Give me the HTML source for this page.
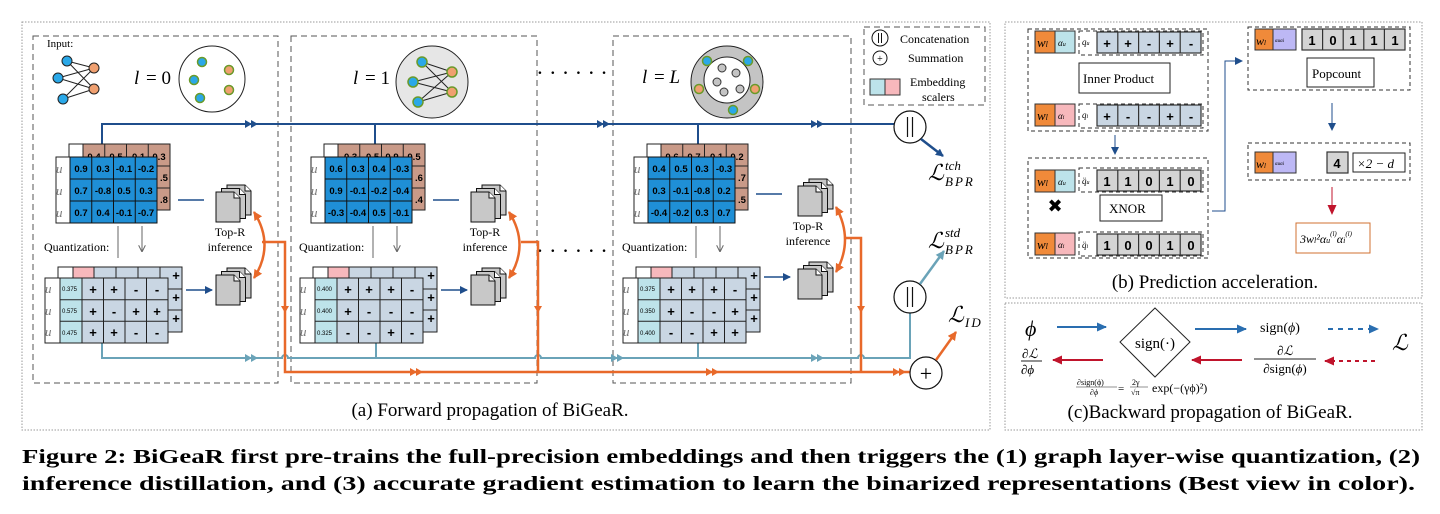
<!DOCTYPE html>
<html><head><meta charset="utf-8"><style>
html,body{margin:0;padding:0;background:#fff;width:1440px;height:514px;overflow:hidden}
svg{display:block}
.n{font-family:"Liberation Sans",sans-serif;font-size:9.5px;font-weight:bold;text-anchor:middle}
.pm{font-family:"Liberation Sans",sans-serif;font-size:13px;font-weight:bold;text-anchor:middle}
.sc{font-family:"Liberation Sans",sans-serif;font-size:6px}
.u{font-family:"Liberation Serif",serif;font-style:italic;font-size:13px;fill:#777}
.s{font-family:"Liberation Serif",serif}
.i{font-family:"Liberation Serif",serif;font-style:italic}
</style></head><body>
<svg width="1440" height="514" viewBox="0 0 1440 514" xmlns="http://www.w3.org/2000/svg">
<defs>
<marker id="ab" markerWidth="8" markerHeight="8" refX="7" refY="4" orient="auto" markerUnits="userSpaceOnUse"><path d="M0,0L8,4L0,8z" fill="#1f4e8c"/></marker>
<marker id="ao" markerWidth="9" markerHeight="9" refX="8" refY="4.5" orient="auto" markerUnits="userSpaceOnUse"><path d="M0,0L9,4.5L0,9z" fill="#e8692a"/></marker>
<marker id="ao2" markerWidth="9" markerHeight="9" refX="1" refY="4.5" orient="auto" markerUnits="userSpaceOnUse"><path d="M9,0L0,4.5L9,9z" fill="#e8692a"/></marker>
<marker id="at" markerWidth="9" markerHeight="9" refX="8" refY="4.5" orient="auto" markerUnits="userSpaceOnUse"><path d="M0,0L9,4.5L0,9z" fill="#6aa3b8"/></marker>
<marker id="ag" markerWidth="7" markerHeight="7" refX="6" refY="3.5" orient="auto" markerUnits="userSpaceOnUse"><path d="M0,0L7,3.5L0,7" fill="none" stroke="#666"/></marker>
<marker id="ar" markerWidth="10" markerHeight="9" refX="9" refY="4.5" orient="auto" markerUnits="userSpaceOnUse"><path d="M0,0L10,4.5L0,9z" fill="#c0142c"/></marker>
<marker id="abl" markerWidth="10" markerHeight="9" refX="9" refY="4.5" orient="auto" markerUnits="userSpaceOnUse"><path d="M0,0L10,4.5L0,9z" fill="#2a6eb0"/></marker>
<g id="pg"><path d="M0,0h18l6,6v24h-24z" fill="#c8c8c8" stroke="#111" stroke-width="1"/><path d="M18,0v6h6" fill="#fff" stroke="#111" stroke-width="1"/></g>
<g id="docs"><use href="#pg" x="11" y="-7"/><use href="#pg" x="5.5" y="-3.5"/><use href="#pg"/></g>
<path id="dh" d="M-7,-4L0,0L-7,4z"/>
</defs>

<rect x="22" y="22" width="968" height="408" fill="none" stroke="#999" stroke-dasharray="1.5,1.5"/>
<rect x="1005" y="22" width="417" height="276" fill="none" stroke="#999" stroke-dasharray="1.5,1.5"/>
<rect x="1005" y="303" width="417" height="127" fill="none" stroke="#999" stroke-dasharray="1.5,1.5"/>

<g fill="none" stroke="#555" stroke-dasharray="6,4" stroke-width="1">
<rect x="33" y="36" width="245" height="347"/>
<rect x="291" y="36" width="246" height="347"/>
<rect x="613" y="36" width="238" height="347"/>
<rect x="864" y="27" width="121" height="78"/>
</g>

<circle cx="880" cy="38" r="8" fill="#fff" stroke="#111"/><path d="M878.5,33v10M881.5,33v10" stroke="#111"/>
<text x="900" y="43" class="s" font-size="12">Concatenation</text>
<circle cx="880" cy="58" r="7" fill="#fff" stroke="#111"/><text x="880" y="62" class="s" font-size="10" text-anchor="middle">+</text>
<text x="908" y="62" class="s" font-size="12">Summation</text>
<rect x="870" y="79" width="15" height="16" fill="#bde3ea" stroke="#333"/><rect x="885" y="79" width="15" height="16" fill="#f7b8bc" stroke="#333"/>
<text x="910" y="86" class="s" font-size="12">Embedding</text>
<text x="922" y="101" class="s" font-size="12">scalers</text>

<g stroke="#222" stroke-width="1">
<path d="M67,61L94,68M67,61L94,89M58,78L94,68M58,78L94,89M63,99L94,68M63,99L94,89"/>
<circle cx="67" cy="61" r="5" fill="#2aa8e8"/><circle cx="58" cy="78" r="5" fill="#2aa8e8"/><circle cx="63" cy="99" r="5" fill="#2aa8e8"/>
<circle cx="94" cy="68" r="5" fill="#f0a070"/><circle cx="94" cy="89" r="5" fill="#f0a070"/>
</g>
<text x="47" y="47" class="s" font-size="11">Input:</text>
<text x="134" y="84" class="i" font-size="19">l</text><text x="146" y="84" class="s" font-size="19">= 0</text>
<circle cx="212" cy="79" r="33" fill="#fff" stroke="#222"/>
<g stroke="#6a9a2a" stroke-width="1.5" fill="#2aa8e8"><circle cx="202" cy="62" r="4.5"/><circle cx="194" cy="80" r="4.5"/><circle cx="200" cy="98" r="4.5"/></g>
<g stroke="#6a9a2a" stroke-width="1.5" fill="#f0a070"><circle cx="229" cy="70" r="4.5"/><circle cx="229" cy="90" r="4.5"/></g>

<text x="353" y="84" class="i" font-size="19">l</text><text x="365" y="84" class="s" font-size="19">= 1</text>
<circle cx="432" cy="82" r="36" fill="#e6e6e6" stroke="#222"/>
<g stroke="#222"><path d="M422,62L452,72M422,62L452,92M413,82L452,72M413,82L452,92M418,102L452,72M418,102L452,92"/></g>
<g stroke="#6a9a2a" stroke-width="1.5" fill="#2aa8e8"><circle cx="422" cy="62" r="5"/><circle cx="413" cy="82" r="5"/><circle cx="418" cy="102" r="5"/></g>
<g stroke="#6a9a2a" stroke-width="1.5" fill="#f0a070"><circle cx="452" cy="72" r="5"/><circle cx="452" cy="92" r="5"/></g>

<text x="572" y="80" class="s" font-size="22" text-anchor="middle">· · · · · ·</text>
<text x="572" y="258" class="s" font-size="22" text-anchor="middle">· · · · · ·</text>

<text x="642" y="83" class="i" font-size="19">l</text><text x="654" y="83" class="s" font-size="19">= <tspan class="i">L</tspan></text>
<circle cx="727" cy="82" r="36" fill="#c4c4c4" stroke="#222"/>
<circle cx="727" cy="80" r="23" fill="#fff" stroke="#222"/>
<g fill="#c4c4c4" stroke="#333"><circle cx="722" cy="68" r="4"/><circle cx="717" cy="82" r="4"/><circle cx="736" cy="73" r="4"/><circle cx="740" cy="89" r="4"/><circle cx="724" cy="92" r="4"/></g>
<g stroke="#6a9a2a" stroke-width="1.5" fill="#2aa8e8"><circle cx="707" cy="61" r="4.5"/><circle cx="748" cy="61" r="4.5"/><circle cx="733" cy="110" r="4.5"/></g>
<g stroke="#6a9a2a" stroke-width="1.5" fill="#f0a070"><circle cx="699" cy="89" r="4.5"/><circle cx="755" cy="89" r="4.5"/></g>

<path d="M102,145V124H894M375,124V145M698,124V145" fill="none" stroke="#1f4e8c" stroke-width="2"/>
<g fill="#1f4e8c"><use href="#dh" x="252" y="124"/><use href="#dh" x="258" y="124"/><use href="#dh" x="604" y="124"/><use href="#dh" x="610" y="124"/><use href="#dh" x="818" y="124"/><use href="#dh" x="824" y="124"/></g>
<circle cx="910" cy="127" r="16" fill="#fff" stroke="#111" stroke-width="1.2"/><path d="M907.5,117v20M912.5,117v20" stroke="#111" stroke-width="1.2"/>
<path d="M921,139L943,156" stroke="#1f4e8c" stroke-width="2.5" marker-end="url(#ab)"/>
<text x="928" y="180" class="i" font-size="22">ℒ</text><text x="945" y="170" class="i" font-size="13">tch</text><text x="945" y="186" class="i" font-size="13" letter-spacing="2">BPR</text>
<text x="928" y="248" class="i" font-size="22">ℒ</text><text x="945" y="237" class="i" font-size="13">std</text><text x="945" y="254" class="i" font-size="13" letter-spacing="2">BPR</text>
<text x="948" y="322" class="i" font-size="22">ℒ</text><text x="965" y="327" class="i" font-size="13" letter-spacing="2">ID</text>

<path d="M102,343V358H282a3,3 0 0 1 6,0H535a3,3 0 0 1 6,0H858a3,3 0 0 1 6,0H910V313M376,343V358M698,343V358" fill="none" stroke="#6aa3b8" stroke-width="2"/>
<g fill="#6aa3b8"><use href="#dh" x="252" y="358"/><use href="#dh" x="258" y="358"/><use href="#dh" x="618" y="358"/><use href="#dh" x="624" y="358"/><use href="#dh" x="818" y="358"/><use href="#dh" x="824" y="358"/></g>
<circle cx="910" cy="297" r="16" fill="#fff" stroke="#111" stroke-width="1.2"/><path d="M907.5,287v20M912.5,287v20" stroke="#111" stroke-width="1.2"/>
<path d="M920,284L944,251" stroke="#6aa3b8" stroke-width="2.5" marker-end="url(#at)"/>

<path d="M262,242H285V372H910M521,242H538V372M845,238H861V372" fill="none" stroke="#e8692a" stroke-width="2.5"/>
<g fill="#e8692a"><use href="#dh" transform="translate(285,313) rotate(90)"/><use href="#dh" transform="translate(538,313) rotate(90)"/><use href="#dh" transform="translate(861,313) rotate(90)"/><use href="#dh" x="417" y="372"/><use href="#dh" x="423" y="372"/><use href="#dh" x="713" y="372"/><use href="#dh" x="719" y="372"/><use href="#dh" x="900" y="372"/><use href="#dh" x="906" y="372"/></g>
<circle cx="926" cy="373" r="16" fill="#fff" stroke="#111" stroke-width="1.2"/><text x="926" y="381" class="s" font-size="22" text-anchor="middle">+</text>
<path d="M936,360L956,332" stroke="#e8692a" stroke-width="2.5" marker-end="url(#ao)"/>

<!-- Layer 0 -->
<g>
<rect x="69" y="144" width="14" height="22" fill="#fff" stroke="#222"/>
<rect x="83" y="144" width="87" height="66" fill="#c99a88" stroke="#222"/>
<path d="M104.75,144v66M126.5,144v66M148.25,144v66M83,166h87M83,188h87" stroke="#222" fill="none"/>
<text class="n" y="160"><tspan x="94">0.4</tspan><tspan x="116">0.5</tspan><tspan x="137">-0.1</tspan><tspan x="159">0.3</tspan></text>
<text class="n" x="164" y="181">.5</text><text class="n" x="164" y="203">.8</text>
<rect x="56" y="157" width="14" height="66" fill="#fff" stroke="#222"/>
<text class="u" x="56" y="173">u</text><text class="u" x="56" y="195">u</text><text class="u" x="56" y="217">u</text>
<rect x="70" y="157" width="87" height="66" fill="#1f8fd6" stroke="#111"/>
<path d="M91.75,157v66M113.5,157v66M135.25,157v66M70,179h87M70,201h87" stroke="#111"/>
<text class="n" y="172"><tspan x="81">0.9</tspan><tspan x="103">0.3</tspan><tspan x="124">-0.1</tspan><tspan x="146">-0.2</tspan></text>
<text class="n" y="194"><tspan x="81">0.7</tspan><tspan x="103">-0.8</tspan><tspan x="124">0.5</tspan><tspan x="146">0.3</tspan></text>
<text class="n" y="216"><tspan x="81">0.7</tspan><tspan x="103">0.4</tspan><tspan x="124">-0.1</tspan><tspan x="146">-0.7</tspan></text>
<text class="s" x="44" y="251" font-size="12">Quantization:</text>
<path d="M118,226V258M142,226V251" stroke="#666" marker-end="url(#ag)"/>
<rect x="58" y="267" width="15" height="22" fill="#fff" stroke="#222"/><rect x="73" y="267" width="21" height="22" fill="#f7b8bc" stroke="#222"/>
<rect x="94" y="267" width="88" height="65" fill="#c9d6e3" stroke="#222"/>
<path d="M116,267v65M138,267v65M160,267v65M94,289h88M94,310h88" stroke="#222"/>
<text class="pm" x="176" y="280">+</text><text class="pm" x="176" y="302">+</text><text class="pm" x="176" y="323">+</text>
<rect x="45" y="278" width="15" height="65" fill="#fff" stroke="#222"/>
<text class="u" x="45" y="293">u</text><text class="u" x="45" y="315">u</text><text class="u" x="45" y="336">u</text>
<rect x="60" y="278" width="22" height="65" fill="#bde3ea" stroke="#222"/>
<rect x="82" y="278" width="86" height="65" fill="#c9d6e3" stroke="#222"/>
<path d="M60,299.7h108M60,321.3h108M103.5,278v65M125,278v65M146.5,278v65" stroke="#222"/>
<text class="sc" x="62" y="291">0.375</text><text class="sc" x="62" y="313">0.575</text><text class="sc" x="62" y="335">0.475</text>
<text class="pm" y="294"><tspan x="93">+</tspan><tspan x="114">+</tspan><tspan x="136">-</tspan><tspan x="157">-</tspan></text>
<text class="pm" y="316"><tspan x="93">+</tspan><tspan x="114">-</tspan><tspan x="136">+</tspan><tspan x="157">+</tspan></text>
<text class="pm" y="337"><tspan x="93">+</tspan><tspan x="114">+</tspan><tspan x="136">-</tspan><tspan x="157">-</tspan></text>
<path d="M178,200H204M186,290H212" stroke="#1f4e8c" stroke-width="1.5" marker-end="url(#ab)"/>
<use href="#docs" x="216" y="192"/><use href="#docs" x="216" y="275"/>
<text class="s" x="230" y="236" font-size="12" text-anchor="middle">Top-R</text><text class="s" x="230" y="251" font-size="12" text-anchor="middle">inference</text>
<path d="M254,212Q275,245 254,278" fill="none" stroke="#e8692a" stroke-width="2.5" marker-start="url(#ao2)" marker-end="url(#ao)"/>
</g>

<!-- Layer 1 -->
<g transform="translate(255,0)">
<rect x="69" y="144" width="14" height="22" fill="#fff" stroke="#222"/>
<rect x="83" y="144" width="87" height="66" fill="#c99a88" stroke="#222"/>
<path d="M104.75,144v66M126.5,144v66M148.25,144v66M83,166h87M83,188h87" stroke="#222" fill="none"/>
<text class="n" y="160"><tspan x="94">-0.3</tspan><tspan x="116">-0.5</tspan><tspan x="137">0.9</tspan><tspan x="159">0.5</tspan></text>
<text class="n" x="164" y="181">.6</text><text class="n" x="164" y="203">.4</text>
<rect x="56" y="157" width="14" height="66" fill="#fff" stroke="#222"/>
<text class="u" x="56" y="173">u</text><text class="u" x="56" y="195">u</text><text class="u" x="56" y="217">u</text>
<rect x="70" y="157" width="87" height="66" fill="#1f8fd6" stroke="#111"/>
<path d="M91.75,157v66M113.5,157v66M135.25,157v66M70,179h87M70,201h87" stroke="#111"/>
<text class="n" y="172"><tspan x="81">0.6</tspan><tspan x="103">0.3</tspan><tspan x="124">0.4</tspan><tspan x="146">-0.3</tspan></text>
<text class="n" y="194"><tspan x="81">0.9</tspan><tspan x="103">-0.1</tspan><tspan x="124">-0.2</tspan><tspan x="146">-0.4</tspan></text>
<text class="n" y="216"><tspan x="81">-0.3</tspan><tspan x="103">-0.4</tspan><tspan x="124">0.5</tspan><tspan x="146">-0.1</tspan></text>
<text class="s" x="44" y="251" font-size="12">Quantization:</text>
<path d="M118,226V258M142,226V251" stroke="#666" marker-end="url(#ag)"/>
<rect x="58" y="267" width="15" height="22" fill="#fff" stroke="#222"/><rect x="73" y="267" width="21" height="22" fill="#f7b8bc" stroke="#222"/>
<rect x="94" y="267" width="88" height="65" fill="#c9d6e3" stroke="#222"/>
<path d="M116,267v65M138,267v65M160,267v65M94,289h88M94,310h88" stroke="#222"/>
<text class="pm" x="176" y="280">+</text><text class="pm" x="176" y="302">+</text><text class="pm" x="176" y="323">+</text>
<rect x="45" y="278" width="15" height="65" fill="#fff" stroke="#222"/>
<text class="u" x="45" y="293">u</text><text class="u" x="45" y="315">u</text><text class="u" x="45" y="336">u</text>
<rect x="60" y="278" width="22" height="65" fill="#bde3ea" stroke="#222"/>
<rect x="82" y="278" width="86" height="65" fill="#c9d6e3" stroke="#222"/>
<path d="M60,299.7h108M60,321.3h108M103.5,278v65M125,278v65M146.5,278v65" stroke="#222"/>
<text class="sc" x="62" y="291">0.400</text><text class="sc" x="62" y="313">0.400</text><text class="sc" x="62" y="335">0.325</text>
<text class="pm" y="294"><tspan x="93">+</tspan><tspan x="114">+</tspan><tspan x="136">+</tspan><tspan x="157">-</tspan></text>
<text class="pm" y="316"><tspan x="93">+</tspan><tspan x="114">-</tspan><tspan x="136">-</tspan><tspan x="157">-</tspan></text>
<text class="pm" y="337"><tspan x="93">-</tspan><tspan x="114">-</tspan><tspan x="136">+</tspan><tspan x="157">-</tspan></text>
<path d="M178,200H204M186,290H212" stroke="#1f4e8c" stroke-width="1.5" marker-end="url(#ab)"/>
<use href="#docs" x="216" y="192"/><use href="#docs" x="216" y="275"/>
<text class="s" x="230" y="236" font-size="12" text-anchor="middle">Top-R</text><text class="s" x="230" y="251" font-size="12" text-anchor="middle">inference</text>
<path d="M254,212Q275,245 254,278" fill="none" stroke="#e8692a" stroke-width="2.5" marker-start="url(#ao2)" marker-end="url(#ao)"/>
</g>

<!-- Layer L -->
<g transform="translate(578,0)">
<rect x="69" y="144" width="14" height="22" fill="#fff" stroke="#222"/>
<rect x="83" y="144" width="87" height="66" fill="#c99a88" stroke="#222"/>
<path d="M104.75,144v66M126.5,144v66M148.25,144v66M83,166h87M83,188h87" stroke="#222" fill="none"/>
<text class="n" y="160"><tspan x="94">0.6</tspan><tspan x="116">0.7</tspan><tspan x="137">-0.1</tspan><tspan x="159">0.2</tspan></text>
<text class="n" x="164" y="181">.7</text><text class="n" x="164" y="203">.5</text>
<rect x="56" y="157" width="14" height="66" fill="#fff" stroke="#222"/>
<text class="u" x="56" y="173">u</text><text class="u" x="56" y="195">u</text><text class="u" x="56" y="217">u</text>
<rect x="70" y="157" width="87" height="66" fill="#1f8fd6" stroke="#111"/>
<path d="M91.75,157v66M113.5,157v66M135.25,157v66M70,179h87M70,201h87" stroke="#111"/>
<text class="n" y="172"><tspan x="81">0.4</tspan><tspan x="103">0.5</tspan><tspan x="124">0.3</tspan><tspan x="146">-0.3</tspan></text>
<text class="n" y="194"><tspan x="81">0.3</tspan><tspan x="103">-0.1</tspan><tspan x="124">-0.8</tspan><tspan x="146">0.2</tspan></text>
<text class="n" y="216"><tspan x="81">-0.4</tspan><tspan x="103">-0.2</tspan><tspan x="124">0.3</tspan><tspan x="146">0.7</tspan></text>
<text class="s" x="44" y="251" font-size="12">Quantization:</text>
<path d="M118,226V258M142,226V251" stroke="#666" marker-end="url(#ag)"/>
<rect x="58" y="267" width="15" height="22" fill="#fff" stroke="#222"/><rect x="73" y="267" width="21" height="22" fill="#f7b8bc" stroke="#222"/>
<rect x="94" y="267" width="88" height="65" fill="#c9d6e3" stroke="#222"/>
<path d="M116,267v65M138,267v65M160,267v65M94,289h88M94,310h88" stroke="#222"/>
<text class="pm" x="176" y="280">+</text><text class="pm" x="176" y="302">+</text><text class="pm" x="176" y="323">+</text>
<rect x="45" y="278" width="15" height="65" fill="#fff" stroke="#222"/>
<text class="u" x="45" y="293">u</text><text class="u" x="45" y="315">u</text><text class="u" x="45" y="336">u</text>
<rect x="60" y="278" width="22" height="65" fill="#bde3ea" stroke="#222"/>
<rect x="82" y="278" width="86" height="65" fill="#c9d6e3" stroke="#222"/>
<path d="M60,299.7h108M60,321.3h108M103.5,278v65M125,278v65M146.5,278v65" stroke="#222"/>
<text class="sc" x="62" y="291">0.375</text><text class="sc" x="62" y="313">0.350</text><text class="sc" x="62" y="335">0.400</text>
<text class="pm" y="294"><tspan x="93">+</tspan><tspan x="114">+</tspan><tspan x="136">+</tspan><tspan x="157">-</tspan></text>
<text class="pm" y="316"><tspan x="93">+</tspan><tspan x="114">-</tspan><tspan x="136">-</tspan><tspan x="157">+</tspan></text>
<text class="pm" y="337"><tspan x="93">-</tspan><tspan x="114">-</tspan><tspan x="136">+</tspan><tspan x="157">+</tspan></text>
<path d="M178,194H204M186,277H212" stroke="#1f4e8c" stroke-width="1.5" marker-end="url(#ab)"/>
<use href="#docs" x="220" y="186"/><use href="#docs" x="220" y="269"/>
<text class="s" x="230" y="230" font-size="12" text-anchor="middle">Top-R</text><text class="s" x="230" y="245" font-size="12" text-anchor="middle">inference</text>
<path d="M258,207Q276,240 258,272" fill="none" stroke="#e8692a" stroke-width="2.5" marker-start="url(#ao2)" marker-end="url(#ao)"/>
</g>

<text x="490" y="416" class="s" font-size="19" text-anchor="middle">(a) Forward propagation of BiGeaR.</text>

<!-- Panel b -->
<g fill="none" stroke="#333" stroke-dasharray="4,3">
<rect x="1028" y="29" width="180" height="102"/>
<rect x="1028" y="158" width="180" height="100"/>
<rect x="1248" y="27" width="162" height="63"/>
<rect x="1248" y="143" width="162" height="37"/>
<rect x="1079" y="31" width="124" height="24"/><rect x="1079" y="104" width="124" height="24"/>
<rect x="1079" y="168" width="124" height="24"/><rect x="1079" y="232" width="124" height="24"/>
</g>
<g stroke="#333">
<rect x="1035" y="31" width="20" height="22" fill="#f08a3a"/><rect x="1055" y="31" width="20" height="22" fill="#bde3ea"/>
<rect x="1035" y="104" width="20" height="22" fill="#f08a3a"/><rect x="1055" y="104" width="20" height="22" fill="#f7b8bc"/>
<rect x="1035" y="170" width="20" height="22" fill="#f08a3a"/><rect x="1055" y="170" width="20" height="22" fill="#bde3ea"/>
<rect x="1035" y="233" width="20" height="22" fill="#f08a3a"/><rect x="1055" y="233" width="20" height="22" fill="#f7b8bc"/>
<rect x="1255" y="29" width="18" height="21" fill="#f08a3a"/><rect x="1273" y="29" width="23" height="21" fill="#bdb8f5"/>
<rect x="1255" y="152" width="18" height="21" fill="#f08a3a"/><rect x="1273" y="152" width="23" height="21" fill="#bdb8f5"/>
</g>
<g stroke="#333" stroke-width="1.2">
<rect x="1097" y="32" width="104" height="21" fill="#c9d6e3"/><rect x="1097" y="105" width="104" height="21" fill="#c9d6e3"/>
<rect x="1097" y="170" width="104" height="21" fill="#d4d4d4"/><rect x="1097" y="234" width="104" height="21" fill="#d4d4d4"/>
<rect x="1302" y="29" width="103" height="21" fill="#d4d4d4"/>
<path d="M1117.8,32v21M1138.6,32v21M1159.4,32v21M1180.2,32v21M1117.8,105v21M1138.6,105v21M1159.4,105v21M1180.2,105v21M1117.8,170v21M1138.6,170v21M1159.4,170v21M1180.2,170v21M1117.8,234v21M1138.6,234v21M1159.4,234v21M1180.2,234v21M1322.6,29v21M1343.2,29v21M1363.8,29v21M1384.4,29v21"/>
<rect x="1327" y="152" width="21" height="21" fill="#d4d4d4"/>
</g>
<g fill="#fff" stroke="#222"><rect x="1079" y="63" width="91" height="30"/><rect x="1100" y="195" width="62" height="26"/><rect x="1307" y="58" width="67" height="29"/><rect x="1353" y="153" width="52" height="19"/></g>
<rect x="1296" y="223" width="74" height="30" fill="#fff" stroke="#d07030"/>
<g class="i" font-size="13"><text x="1037" y="47">w<tspan font-size="8">l</tspan></text><text x="1037" y="120">w<tspan font-size="8">l</tspan></text><text x="1037" y="186">w<tspan font-size="8">l</tspan></text><text x="1037" y="249">w<tspan font-size="8">l</tspan></text><text x="1256" y="45" font-size="12">w<tspan font-size="7">l</tspan></text><text x="1256" y="168" font-size="12">w<tspan font-size="7">l</tspan></text></g>
<g class="i" font-size="9"><text x="1058" y="46">α<tspan font-size="6">u</tspan></text><text x="1058" y="119">α<tspan font-size="6">i</tspan></text><text x="1058" y="185">α<tspan font-size="6">u</tspan></text><text x="1058" y="248">α<tspan font-size="6">i</tspan></text>
<text x="1082" y="45">q<tspan font-size="6">u</tspan></text><text x="1082" y="118">q<tspan font-size="6">i</tspan></text><text x="1082" y="184">q̈<tspan font-size="6">u</tspan></text><text x="1082" y="248">q̈<tspan font-size="6">i</tspan></text>
<text x="1275" y="42" font-size="5">α<tspan>u</tspan>α<tspan>i</tspan></text><text x="1275" y="165" font-size="5">α<tspan>u</tspan>α<tspan>i</tspan></text></g>
<text class="pm" y="48"><tspan x="1107">+</tspan><tspan x="1128">+</tspan><tspan x="1149">-</tspan><tspan x="1170">+</tspan><tspan x="1191">-</tspan></text>
<text class="pm" y="121"><tspan x="1107">+</tspan><tspan x="1128">-</tspan><tspan x="1149">-</tspan><tspan x="1170">+</tspan><tspan x="1191">-</tspan></text>
<text class="pm" y="186" font-size="12"><tspan x="1107">1</tspan><tspan x="1128">1</tspan><tspan x="1149">0</tspan><tspan x="1170">1</tspan><tspan x="1191">0</tspan></text>
<text class="pm" y="250" font-size="12"><tspan x="1107">1</tspan><tspan x="1128">0</tspan><tspan x="1149">0</tspan><tspan x="1170">1</tspan><tspan x="1191">0</tspan></text>
<text class="pm" y="45" font-size="12"><tspan x="1312">1</tspan><tspan x="1333">0</tspan><tspan x="1353">1</tspan><tspan x="1374">1</tspan><tspan x="1395">1</tspan></text>
<text class="pm" x="1337" y="168" font-size="12">4</text>
<text class="s" x="1083" y="83" font-size="13">Inner Product</text>
<text class="s" x="1109" y="213" font-size="13">XNOR</text>
<text class="s" x="1312" y="78" font-size="13">Popcount</text>
<text class="i" x="1357" y="168" font-size="13">×2 − d</text>
<text class="i" x="1300" y="243" font-size="12">3w<tspan font-size="8">l</tspan>²α<tspan font-size="8">u</tspan><tspan font-size="7" dy="-7">(l)</tspan><tspan dy="7">α</tspan><tspan font-size="8">i</tspan><tspan font-size="7" dy="-7">(l)</tspan></text>
<text x="1055" y="212" font-size="18" font-weight="bold" font-family="DejaVu Sans" text-anchor="middle">✖</text>
<path d="M1115,135V154" stroke="#1f4e8c" marker-end="url(#ab)"/>
<path d="M1212,211H1225V61H1242" fill="none" stroke="#1f4e8c" marker-end="url(#ab)"/>
<path d="M1332,103V130" stroke="#1f4e8c" marker-end="url(#ab)"/>
<path d="M1332,187V214" stroke="#c0142c" marker-end="url(#ar)"/>
<text x="1215" y="288" class="s" font-size="19" text-anchor="middle">(b) Prediction acceleration.</text>

<!-- Panel c -->
<text x="1025" y="336" class="i" font-size="22">ϕ</text>
<path d="M1057,327H1106" stroke="#2a6eb0" stroke-width="2" marker-end="url(#abl)"/>
<path d="M1155,308L1190,342L1155,377L1120,342z" fill="#fff" stroke="#222"/>
<text x="1155" y="348" class="s" font-size="15" text-anchor="middle">sign(·)</text>
<path d="M1195,329H1246" stroke="#2a6eb0" stroke-width="2" marker-end="url(#abl)"/>
<text x="1260" y="332" class="s" font-size="14">sign(<tspan class="i">ϕ</tspan>)</text>
<path d="M1328,329H1378" stroke="#2a6eb0" stroke-width="2" stroke-dasharray="5,5" marker-end="url(#abl)"/>
<text x="1392" y="350" class="i" font-size="22">ℒ</text>
<text x="1022" y="358" class="i" font-size="13">∂ℒ</text><path d="M1021,361H1042" stroke="#222"/><text x="1021" y="374" class="i" font-size="13">∂ϕ</text>
<path d="M1103,360H1053" stroke="#c0142c" stroke-width="2" marker-end="url(#ar)"/>
<path d="M1242,360H1192" stroke="#c0142c" stroke-width="2" marker-end="url(#ar)"/>
<text x="1285" y="355" class="i" font-size="13" text-anchor="middle">∂ℒ</text><path d="M1254,359H1316" stroke="#222"/><text x="1285" y="373" class="s" font-size="13" text-anchor="middle">∂sign(<tspan class="i">ϕ</tspan>)</text>
<path d="M1375,361H1325" stroke="#c0142c" stroke-width="2" stroke-dasharray="4,4" marker-end="url(#ar)"/>
<text x="1077" y="385" class="s" font-size="8">∂sign(ϕ)</text><path d="M1076,387H1117" stroke="#222" stroke-width="0.6"/><text x="1090" y="395" class="i" font-size="8">∂ϕ</text>
<text x="1118" y="392" class="s" font-size="11">= </text><text x="1132" y="385" class="s" font-size="8">2γ</text><path d="M1130,387H1148" stroke="#222" stroke-width="0.6"/><text x="1131" y="395" class="s" font-size="8">√π</text>
<text x="1152" y="392" class="s" font-size="12">exp(−(γϕ)²)</text>
<text x="1210" y="418" class="s" font-size="19" text-anchor="middle">(c)Backward propagation of BiGeaR.</text>

<text x="22" y="463" font-family="Liberation Serif, serif" font-weight="bold" font-size="20" textLength="1398" lengthAdjust="spacingAndGlyphs">Figure 2: BiGeaR first pre-trains the full-precision embeddings and then triggers the (1) graph layer-wise quantization, (2)</text>
<text x="22" y="490" font-family="Liberation Serif, serif" font-weight="bold" font-size="20" textLength="1393" lengthAdjust="spacingAndGlyphs">inference distillation, and (3) accurate gradient estimation to learn the binarized representations (Best view in color).</text>
</svg>
</body></html>
